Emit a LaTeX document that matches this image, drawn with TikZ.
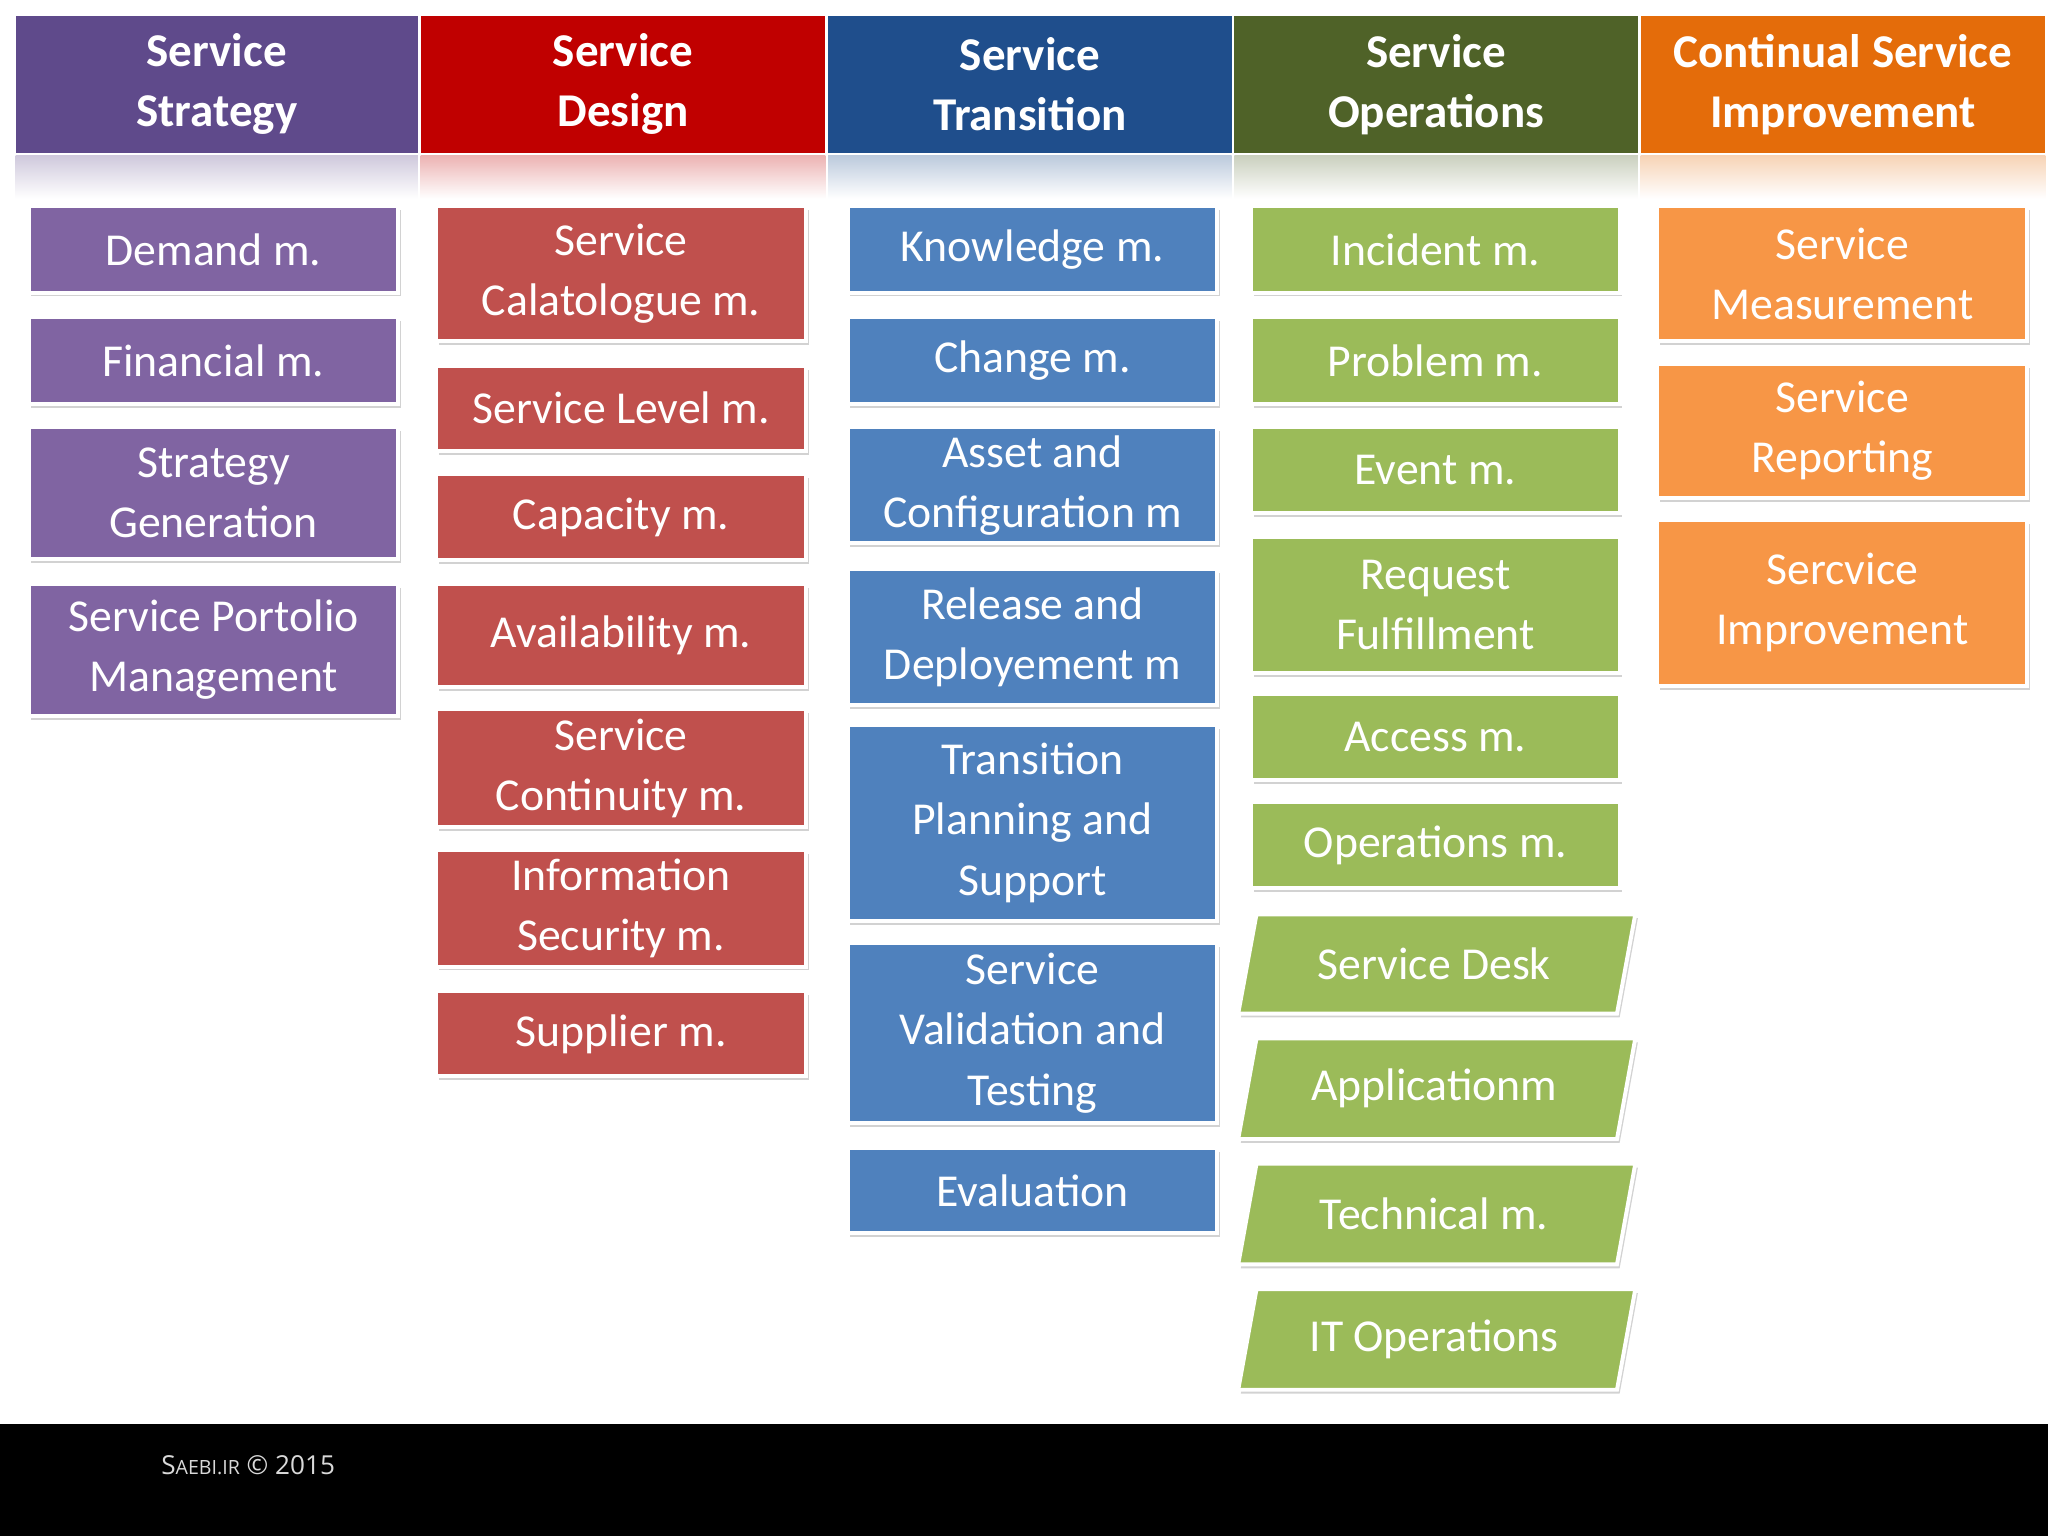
\documentclass[tikz,border=0pt]{standalone}
\usepackage{fontspec}
\setmainfont{Carlito}
\newfontfamily\footfont{Open Sans}
\usetikzlibrary{shadows}
\definecolor{hA}{HTML}{5F4A8B}\definecolor{hB}{HTML}{C00000}\definecolor{hC}{HTML}{1F4E8C}\definecolor{hD}{HTML}{4F6228}\definecolor{hE}{HTML}{E46C0A}
\definecolor{bA}{HTML}{8064A2}\definecolor{bB}{HTML}{C0504D}\definecolor{bC}{HTML}{4F81BD}\definecolor{bD}{HTML}{9BBB59}\definecolor{bE}{HTML}{F79646}
\tikzset{
 hdr/.style={fill=#1,draw=none,text=white,font=\fontsize{36}{46}\selectfont\bfseries,align=center,inner sep=0pt},
 box/.style={fill=#1,draw=white,line width=3pt,text=white,font=\fontsize{35}{46}\selectfont,align=center,inner sep=0pt,
   drop shadow={shadow xshift=2pt,shadow yshift=-3pt,opacity=0.35}},
 plain/.style={text=white,font=\fontsize{35}{46}\selectfont,align=center,inner sep=0pt}
}
\newcommand\bx[7]{\node[box=#2,minimum width={#5-#3},minimum height={#6-#4}] (#1) at ({(#3+#5)/2},{(#4+#6)/2}) {#7};}
\newcommand\hd[5]{\node[hdr=#2,minimum width={#4-#3},minimum height=105] (#1) at ({(#3+#4)/2},64.5) {#5};
 \shade[top color=#2!30,bottom color=white] (#3,119) rectangle (#4,152);}
\newcommand\pg[5]{\node[plain,minimum width=284,minimum height={#4-#3}] (#1) at (1098,{(#3+#4)/2}) {};
 \path[fill=#2,draw=white,line width=3pt,drop shadow={shadow xshift=2pt,shadow yshift=-3pt,opacity=0.35}]
 (962,#3)--(1252,#3)--(1238,#4)--(948,#4)--cycle;
 \node[plain] at (#1) {#5};}
\begin{document}
\begin{tikzpicture}[x=1pt,y=-1pt]
\useasboundingbox (0,0) rectangle (1568,1176);
\fill[white] (0,0) rectangle (1568,1176);
\hd{h1}{hA}{12}{320}{Service\\Strategy}
\hd{h2}{hB}{322}{632}{Service\\Design}
\hd{h3}{hC}{634}{943}{Service\\Transition}
\hd{h4}{hD}{945}{1254}{Service\\Operations}
\hd{h5}{hE}{1256}{1566}{Continual Service\\Improvement}
\bx{a1}{bA}{22}{158}{305}{224}{Demand m.}
\bx{a2}{bA}{22}{243}{305}{309}{Financial m.}
\bx{a3}{bA}{22}{327}{305}{428}{Strategy\\Generation}
\bx{a4}{bA}{22}{447}{305}{548}{Service Portolio\\Management}
\bx{b1}{bB}{334}{158}{617}{261}{Service\\Calatologue m.}
\bx{b2}{bB}{334}{280}{617}{345}{Service Level m.}
\bx{b3}{bB}{334}{363}{617}{429}{Capacity m.}
\bx{b4}{bB}{334}{447}{617}{526}{Availability m.}
\bx{b5}{bB}{334}{543}{617}{633}{Service\\Continuity m.}
\bx{b6}{bB}{334}{651}{617}{740}{Information\\Security m.}
\bx{b7}{bB}{334}{759}{617}{824}{Supplier m.}
\bx{c1}{bC}{649}{158}{932}{224}{Knowledge m.}
\bx{c2}{bC}{649}{243}{932}{309}{Change m.}
\bx{c3}{bC}{649}{327}{932}{416}{Asset and\\Configuration m}
\bx{c4}{bC}{649}{436}{932}{540}{Release and\\Deployement m}
\bx{c5}{bC}{649}{555}{932}{705}{Transition\\Planning and\\Support}
\bx{c6}{bC}{649}{722}{932}{860}{Service\\Validation and\\Testing}
\bx{c7}{bC}{649}{879}{932}{944}{Evaluation}
\bx{d1}{bD}{958}{158}{1240}{224}{Incident m.}
\bx{d2}{bD}{958}{243}{1240}{309}{Problem m.}
\bx{d3}{bD}{958}{327}{1240}{393}{Event m.}
\bx{d4}{bD}{958}{411}{1240}{515}{Request\\Fulfillment}
\bx{d5}{bD}{958}{531}{1240}{597}{Access m.}
\bx{d6}{bD}{958}{614}{1240}{680}{Operations m.}
\pg{d7}{bD}{700}{776}{Service Desk}
\pg{d8}{bD}{795}{872}{Applicationm}
\pg{d9}{bD}{891}{968}{Technical m.}
\pg{d10}{bD}{987}{1064}{IT Operations}
\bx{e1}{bE}{1269}{158}{1552}{261}{Service\\Measurement}
\bx{e2}{bE}{1269}{279}{1552}{381}{Service\\Reporting}
\bx{e3}{bE}{1269}{398}{1552}{525}{Sercvice\\Improvement}
\fill[black] (0,1090) rectangle (1568,1176);
\node[anchor=west,text=black!15,font=\fontsize{20}{24}\selectfont\footfont] (ft) at (120,1122) {S{\fontsize{15}{18}\selectfont AEBI.IR} © 2015};
\end{tikzpicture}
\end{document}
